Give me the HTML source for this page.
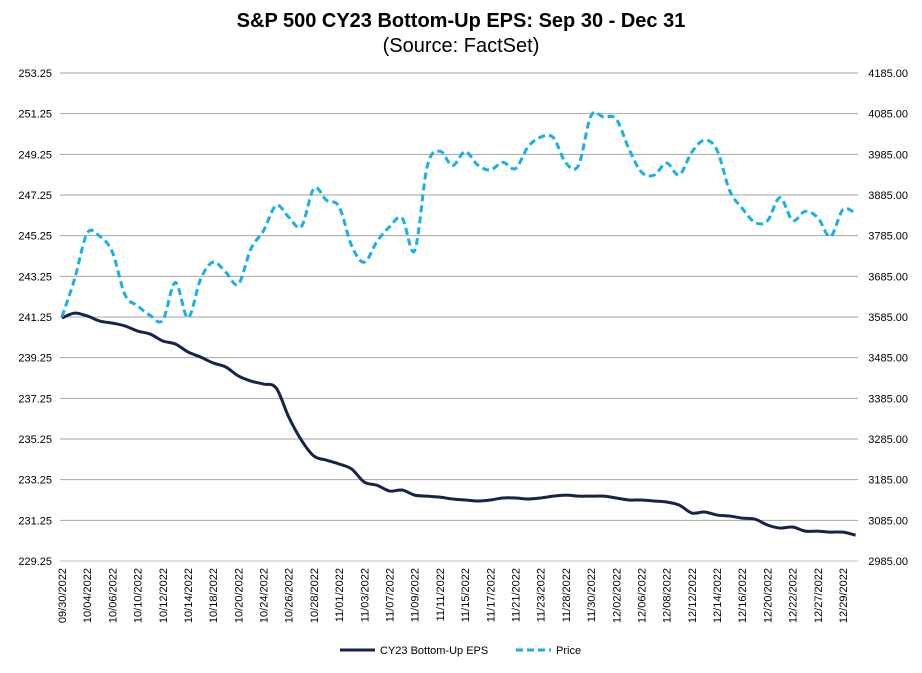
<!DOCTYPE html>
<html><head><meta charset="utf-8"><style>
body{margin:0;background:#fff;font-family:"Liberation Sans",Arial,sans-serif}
svg text{font-family:"Liberation Sans",Arial,sans-serif}
</style></head><body>
<svg id="chart" width="922" height="668" xmlns="http://www.w3.org/2000/svg">
<text x="461" y="27" text-anchor="middle" font-size="20" font-weight="bold">S&amp;P 500 CY23 Bottom-Up EPS: Sep 30 - Dec 31</text>
<text x="461" y="52" text-anchor="middle" font-size="20">(Source: FactSet)</text>
<g id="grid"></g><g id="yl"></g><g id="yr"></g><g id="xl"></g><g id="series"></g>
<g>
<line x1="340" y1="650" x2="375" y2="650" stroke="#172447" stroke-width="3"/>
<text x="380" y="654" font-size="11">CY23 Bottom-Up EPS</text>
<line x1="516" y1="650" x2="551" y2="650" stroke="#17b0ea" stroke-width="3" stroke-dasharray="7,4"/>
<text x="556" y="654" font-size="11">Price</text>
</g>
</svg>
<script>
const dates=["09/30","10/03","10/04","10/05","10/06","10/07","10/10","10/11","10/12","10/13","10/14","10/17","10/18","10/19","10/20","10/21","10/24","10/25","10/26","10/27","10/28","10/31","11/01","11/02","11/03","11/04","11/07","11/08","11/09","11/10","11/11","11/14","11/15","11/16","11/17","11/18","11/21","11/22","11/23","11/25","11/28","11/29","11/30","12/01","12/02","12/05","12/06","12/07","12/08","12/09","12/12","12/13","12/14","12/15","12/16","12/19","12/20","12/21","12/22","12/23","12/27","12/28","12/29","12/30"];
const eps=[241.20,241.44,241.30,241.05,240.95,240.81,240.56,240.41,240.07,239.92,239.53,239.28,238.99,238.79,238.35,238.10,237.95,237.76,236.33,235.20,234.41,234.21,234.02,233.77,233.13,232.98,232.69,232.74,232.49,232.44,232.39,232.30,232.25,232.20,232.25,232.35,232.35,232.30,232.35,232.44,232.49,232.44,232.44,232.44,232.35,232.25,232.25,232.20,232.15,232.00,231.61,231.66,231.51,231.46,231.36,231.31,231.02,230.87,230.92,230.72,230.72,230.67,230.67,230.52];
const price=[3585.62,3678.43,3790.93,3783.28,3744.52,3639.66,3612.39,3588.84,3577.03,3669.91,3583.07,3677.95,3719.98,3695.16,3665.78,3752.75,3797.34,3859.11,3830.60,3807.30,3901.06,3871.98,3856.10,3759.69,3719.89,3770.55,3806.80,3828.11,3748.57,3956.37,3992.93,3957.25,3991.73,3958.79,3946.56,3965.34,3949.94,4003.58,4027.26,4026.12,3963.94,3957.63,4080.11,4076.57,4071.70,3998.84,3941.26,3933.92,3963.51,3934.38,3990.56,4019.65,3995.32,3895.75,3852.36,3817.66,3821.62,3878.44,3822.39,3844.82,3829.25,3783.22,3849.28,3839.50];
const leftTicks=[253.25,251.25,249.25,247.25,245.25,243.25,241.25,239.25,237.25,235.25,233.25,231.25,229.25];
const rightTicks=[4185,4085,3985,3885,3785,3685,3585,3485,3385,3285,3185,3085,2985];
const NS='http://www.w3.org/2000/svg';
const plotTop=73,plotBot=561,x0=62,x1=855.6,gl=60,gr=858;
const X=i=>x0+i*(x1-x0)/(dates.length-1);
const YL=v=>plotTop+(253.25-v)/24*(plotBot-plotTop);
const YR=v=>plotTop+(4185-v)/1200*(plotBot-plotTop);
function mk(t,a,p){const e=document.createElementNS(NS,t);for(const k in a)e.setAttribute(k,a[k]);p.appendChild(e);return e;}
const grid=document.getElementById('grid'),yl=document.getElementById('yl'),yr=document.getElementById('yr'),xl=document.getElementById('xl'),ser=document.getElementById('series');
leftTicks.forEach(v=>{const y=YL(v);
const g=mk('line',{x1:gl,x2:gr,y1:y,y2:y,stroke:v===229.25?'#bfbfbf':'#a6a6a6','stroke-width':1},grid);


const t=mk('text',{x:52,y:y+4,'text-anchor':'end','font-size':11},yl);t.textContent=v.toFixed(2);

});
rightTicks.forEach(v=>{const y=YR(v);
const t=mk('text',{x:908,y:y+4,'text-anchor':'end','font-size':11},yr);t.textContent=v.toFixed(2);

});
dates.forEach((d,i)=>{if(i%2)return;const x=X(i)+4;
const t=mk('text',{x:x,y:568,'text-anchor':'end','font-size':11,transform:`rotate(-90 ${x} 568)`},xl);t.textContent=d+'/2022';

});
function smooth(pts){let d=`M${pts[0][0]},${pts[0][1]}`;for(let i=0;i<pts.length-1;i++){const p0=pts[i-1]||pts[i],p1=pts[i],p2=pts[i+1],p3=pts[i+2]||p2;
const c1=[p1[0]+(p2[0]-p0[0])/6,p1[1]+(p2[1]-p0[1])/6],c2=[p2[0]-(p3[0]-p1[0])/6,p2[1]-(p3[1]-p1[1])/6];
d+=`C${c1[0]},${c1[1]} ${c2[0]},${c2[1]} ${p2[0]},${p2[1]}`;}return d;}
const pe=mk('path',{d:smooth(eps.map((v,i)=>[X(i),YL(v)])),fill:'none',stroke:'#172447','stroke-width':3,'stroke-linejoin':'round'},ser);


const pp=mk('path',{d:smooth(price.map((v,i)=>[X(i),YR(v)])),fill:'none',stroke:'#17b0ea','stroke-width':3,'stroke-dasharray':'7,4'},ser);


</script>
</body></html>
